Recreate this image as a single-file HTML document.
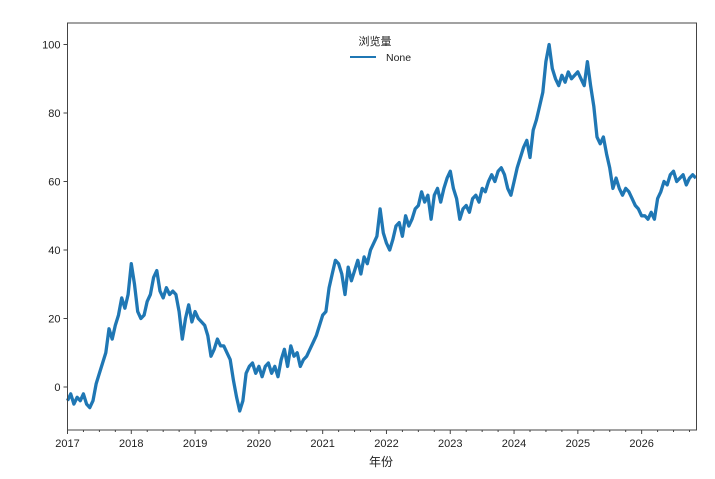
<!DOCTYPE html>
<html><head><meta charset="utf-8"><style>
html,body{margin:0;padding:0;background:#fff;}
svg text{font-family:"Liberation Sans","Noto Sans CJK SC",sans-serif;fill:#222;}
</style></head><body>
<svg id="chart" width="715" height="474" xmlns="http://www.w3.org/2000/svg"></svg>
<script>
const startYear = 2017;
const stepYears = 0.05;
const endYear = 2026.86;
const values = [
-4,-2,-5,-3,-4,-2,-5,-6,-4,1,4,7,10,17,14,18,21,26,23,27,
36,30,22,20,21,25,27,32,34,28,26,29,27,28,27,22,14,20,24,19,
22,20,19,18,15,9,11,14,12,12,10,8,2,-3,-7,-4,4,6,7,4,
6,3,6,7,4,6,3,8,11,6,12,9,10,6,8,9,11,13,15,18,
21,22,29,33,37,36,33,27,35,31,34,37,33,38,36,40,42,44,52,45,
42,40,43,47,48,44,50,47,49,52,53,57,54,56,49,56,58,54,58,61,
63,58,55,49,52,53,51,55,56,54,58,57,60,62,60,63,64,62,58,56,
60,64,67,70,72,67,75,78,82,86,95,100,93,90,88,91,89,92,90,91,
92,90,88,95,88,82,73,71,73,68,64,58,61,58,56,58,57,55,53,52,
50,50,49,51,49,55,57,60,59,62,63,60,61,62,59,61,62,61
];
const yTicks = [0,20,40,60,80,100];
const xTicks = [2017,2018,2019,2020,2021,2022,2023,2024,2025,2026];

const L=67.5,R=696.5,T=23,B=430;
const xs=v=>L+(v-startYear)/(endYear-startYear)*(R-L);
const ys=v=>387-v*3.425;
const svg=document.getElementById('chart');
const NS='http://www.w3.org/2000/svg';
function mk(tag,attrs,parent){const e=document.createElementNS(NS,tag);for(const k in attrs)e.setAttribute(k,attrs[k]);(parent||svg).appendChild(e);return e;}

let d='';
values.forEach((v,i)=>{const x=Math.min(xs(startYear+i*stepYears),R);d+=(i?'L':'M')+x.toFixed(1)+' '+ys(v).toFixed(1);});
const line=mk('path',{d:d,fill:'none',stroke:'#1f77b4','stroke-width':3.3,'stroke-linejoin':'round'});



const frame=mk('rect',{x:L,y:T,width:R-L,height:B-T,fill:'none',stroke:'#444','stroke-width':1});



yTicks.forEach(t=>{const y=ys(t);
 mk('line',{x1:L-4,x2:L,y1:y,y2:y,stroke:'#444'});
 const tx=mk('text',{x:L-7,y:y+4,'text-anchor':'end','font-size':11});tx.textContent=t;
 
 
});
xTicks.forEach(t=>{const x=xs(t);
 mk('line',{x1:x,x2:x,y1:B,y2:B+4,stroke:'#444'});
 const tx=mk('text',{x:x,y:B+17,'text-anchor':'middle','font-size':11});tx.textContent=t;
 
 
 for(let q=1;q<4;q++){const mx=xs(t+q/4);if(mx<=R)mk('line',{x1:mx,x2:mx,y1:B,y2:B+2,stroke:'#444'});}
});
</script>
<svg width="715" height="474" style="position:absolute;left:0;top:0" xmlns="http://www.w3.org/2000/svg">
<g>
<text x="375" y="45" text-anchor="middle" font-size="11">浏览量</text>
<line x1="350" y1="57" x2="376" y2="57" stroke="#1f77b4" stroke-width="2"/>
<text x="386" y="61" font-size="10.5">None</text>
</g>
<text x="381" y="466" text-anchor="middle" font-size="12">年份</text>
</svg>
</body></html>
